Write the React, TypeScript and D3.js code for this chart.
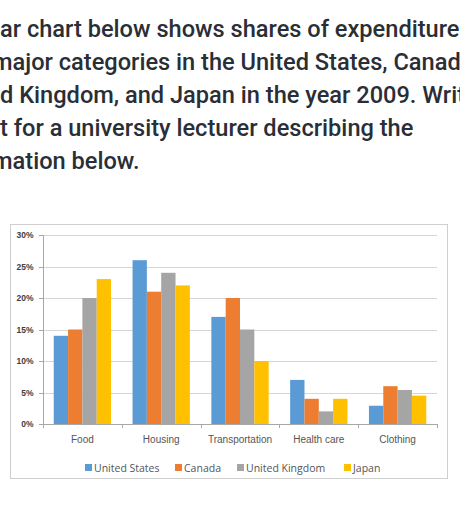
import React from "react";
import * as d3 from "d3";

const categories = ["Food", "Housing", "Transportation", "Health care", "Clothing"];
const seriesNames = ["United States", "Canada", "United Kingdom", "Japan"];
const unitedStates = [14, 26, 17, 7, 2.9];
const canada = [15, 21, 20, 4, 6];
const unitedKingdom = [20, 24, 15, 2, 5.4];
const japan = [23, 22, 10, 4, 4.5];
const seriesColors = ["#5B9BD5", "#ED7D31", "#A5A5A5", "#FFC000"];
const yTicks = [0, 5, 10, 15, 20, 25, 30];
const titleLines = [
  { text: "ar chart below shows shares of expenditure", x: 0 },
  { text: "major categories in the United States, Canada", x: -8 },
  { text: "d Kingdom, and Japan in the year 2009. Write", x: 0 },
  { text: "t for a university lecturer describing the", x: 0 },
  { text: "mation below.", x: -8 },
];

export default function App() {
  const W = 460, H = 512;
  const left = 43, right = 437, top = 235, bottom = 424;
  const data = [unitedStates, canada, unitedKingdom, japan];
  const x0 = d3.scaleBand().domain(categories).range([left, right]).paddingInner(0).paddingOuter(0);
  const bw = x0.bandwidth();
  const groupW = bw * (4 / 5.5);
  const x1 = d3.scaleBand().domain(seriesNames).range([0, groupW]).padding(0);
  const y = d3.scaleLinear().domain([0, 30]).range([bottom, top]);
  const boundaries = [...categories.map((c) => x0(c)!), right];
  const legendItems = [
    { name: seriesNames[0], x: 85 },
    { name: seriesNames[1], x: 175 },
    { name: seriesNames[2], x: 237 },
    { name: seriesNames[3], x: 344 },
  ];
  return (
    <svg width={W} height={H} style={{ position: "absolute", left: 0, top: 0, background: "#fff" }}>
      <rect x={0} y={0} width={W} height={H} fill="#fff" />
      {titleLines.map((l, i) => (
        <text key={i} x={l.x} y={37 + i * 33} fontFamily="Roboto" fontWeight={500} fontSize={23.6} fill="#2a2e35">
          {l.text}
        </text>
      ))}
      <rect x={10.5} y={224.5} width={437} height={254} fill="#fff" stroke="#cfcfcf" strokeWidth={1} />
      {yTicks.map((t) => (
        <g key={t}>
          {t > 0 && (
            <line x1={left} x2={right} y1={Math.round(y(t)) + 0.5} y2={Math.round(y(t)) + 0.5} stroke="#d6d6d6" strokeWidth={1} />
          )}
          <line x1={left - 4} x2={left} y1={Math.round(y(t)) + 0.5} y2={Math.round(y(t)) + 0.5} stroke="#a8a8a8" />
          <text x={33.5} y={y(t) + 3} textAnchor="end" fontFamily="Liberation Sans" fontWeight={700} fontSize={8.5} fill="#404040">
            {t}%
          </text>
        </g>
      ))}
      <line x1={left + 0.5} x2={left + 0.5} y1={top} y2={bottom} stroke="#a8a8a8" />
      {categories.map((c, ci) => (
        <g key={c}>
          {data.map((s, si) => (
            <rect
              key={si}
              x={x0(c)! + (bw - groupW) / 2 + x1(seriesNames[si])!}
              y={y(s[ci])}
              width={x1.bandwidth()}
              height={bottom - y(s[ci])}
              fill={seriesColors[si]}
            />
          ))}
          <text x={x0(c)! + bw / 2} y={443} textAnchor="middle" fontFamily="Liberation Sans" fontSize={10} fill="#555">
            {c}
          </text>
        </g>
      ))}
      <line x1={left} x2={right} y1={bottom + 0.5} y2={bottom + 0.5} stroke="#a8a8a8" />
      {boundaries.map((b, i) => (
        <line key={i} x1={Math.round(b) + 0.5} x2={Math.round(b) + 0.5} y1={bottom} y2={bottom + 4} stroke="#a8a8a8" />
      ))}
      {legendItems.map((it, i) => (
        <g key={it.name}>
          <rect x={it.x} y={464} width={7} height={7} fill={seriesColors[i]} />
          <text x={it.x + 9} y={471.5} fontFamily="Open Sans" fontSize={10.5} fill="#555">
            {it.name}
          </text>
        </g>
      ))}
    </svg>
  );
}
